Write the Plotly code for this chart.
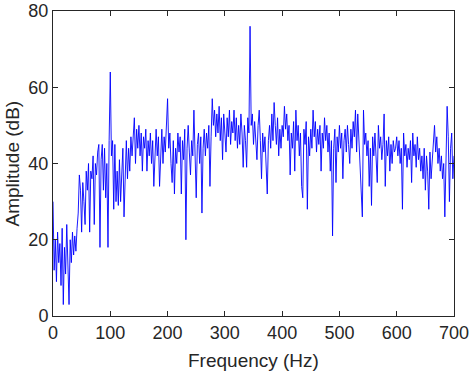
import numpy as np
import plotly.graph_objects as go

# Amplitude spectrum (dB), one value every 2 Hz from 0 to 700 Hz
amp_0_98 = [30, 12, 20, 9, 22, 14, 19, 8, 23, 3, 18, 11, 24, 15, 3, 20, 14, 22, 16, 21,
            17, 23, 27, 37, 33, 22, 35, 30, 24, 38, 33, 40, 22, 38, 36, 42, 24, 40, 37, 43,
            45, 18, 41, 45, 33, 44, 31, 40, 18, 46]
amp_100_198 = [64, 42, 46, 28, 45, 30, 38, 29, 41, 30, 38, 44, 26, 40, 46, 36, 44, 38, 47, 42,
               48, 52, 40, 49, 44, 50, 42, 48, 38, 47, 44, 49, 38, 46, 42, 48, 40, 46, 34, 44,
               49, 42, 47, 34, 45, 49, 40, 47, 43, 49]
amp_200_298 = [57, 44, 48, 40, 35, 46, 32, 44, 40, 48, 43, 47, 32, 46, 41, 49, 20, 44, 50, 43,
               37, 46, 42, 54, 44, 31, 45, 48, 40, 47, 27, 44, 49, 42, 48, 44, 50, 34, 47, 57,
               50, 54, 47, 53, 48, 55, 46, 52, 41, 53]
amp_300_398 = [48, 43, 52, 47, 54, 45, 51, 48, 54, 46, 52, 44, 50, 45, 53, 48, 39, 50, 46, 39,
               52, 48, 76, 50, 53, 45, 51, 47, 41, 50, 54, 46, 36, 48, 43, 47, 40, 32, 46, 50,
               44, 53, 46, 56, 50, 45, 52, 42, 49, 44]
amp_400_498 = [50, 47, 55, 49, 53, 46, 50, 37, 48, 44, 51, 38, 54, 46, 50, 42, 48, 34, 31, 49,
               45, 51, 28, 47, 42, 49, 44, 54, 47, 51, 43, 49, 45, 50, 38, 48, 44, 52, 46, 50,
               43, 48, 38, 46, 21, 44, 49, 35, 47, 43]
amp_500_598 = [50, 44, 48, 36, 46, 49, 43, 50, 45, 40, 49, 44, 51, 47, 54, 43, 53, 46, 42, 36,
               26, 54, 45, 48, 42, 46, 34, 44, 29, 47, 42, 48, 40, 35, 50, 44, 47, 41, 45, 53,
               34, 46, 42, 47, 38, 45, 40, 46, 43, 44]
amp_600_700 = [47, 42, 46, 40, 44, 28, 48, 42, 45, 39, 44, 41, 46, 35, 48, 42, 45, 39, 47, 41,
               44, 38, 42, 36, 44, 33, 42, 38, 28, 43, 36, 41, 46, 50, 43, 47, 40, 44, 38, 42,
               36, 40, 26, 43, 55, 47, 30, 44, 48, 36, 42]

amplitude = amp_0_98 + amp_100_198 + amp_200_298 + amp_300_398 + amp_400_498 + amp_500_598 + amp_600_700
freq_step_hz = 2
frequency = list(np.arange(len(amplitude)) * freq_step_hz)

x_ticks = [0, 100, 200, 300, 400, 500, 600, 700]
y_ticks = [0, 20, 40, 60, 80]

axis_col = "#262626"
font_fam = "Liberation Sans, Arial, Helvetica, sans-serif"

fig = go.Figure()
fig.add_trace(go.Scatter(x=frequency, y=amplitude, mode="lines",
                         line=dict(color="#0000ff", width=0.9), showlegend=False))

fig.update_layout(
    width=474, height=374,
    margin=dict(l=53, r=20, t=11, b=58, autoexpand=False),
    paper_bgcolor="white", plot_bgcolor="white",
    font=dict(family=font_fam, size=18, color=axis_col),
)
fig.update_xaxes(range=[0, 700], tickvals=x_ticks, ticks="inside", ticklen=5,
                 tickcolor=axis_col, showline=True, linecolor=axis_col, linewidth=1,
                 mirror="ticks", showgrid=False, zeroline=False, automargin=False,
                 tickfont=dict(size=18, color=axis_col))
fig.update_yaxes(range=[0, 80], tickvals=y_ticks, ticks="inside", ticklen=5,
                 tickcolor=axis_col, showline=True, linecolor=axis_col, linewidth=1,
                 mirror="ticks", showgrid=False, zeroline=False, automargin=False,
                 tickfont=dict(size=18, color=axis_col))

fig.add_annotation(text="Frequency (Hz)", xref="paper", yref="paper", x=0.5, y=0,
                   yshift=-44, showarrow=False, font=dict(size=19, color=axis_col),
                   xanchor="center", yanchor="middle")
fig.add_annotation(text="Amplitude (dB)", xref="paper", yref="paper", x=0, y=0.5,
                   xshift=-41, showarrow=False, textangle=-90,
                   font=dict(size=19, color=axis_col),
                   xanchor="center", yanchor="middle")

fig.write_html("out.html", config={"displayModeBar": False},
               post_script="document.body.style.margin='0';document.body.style.overflow='hidden';")
